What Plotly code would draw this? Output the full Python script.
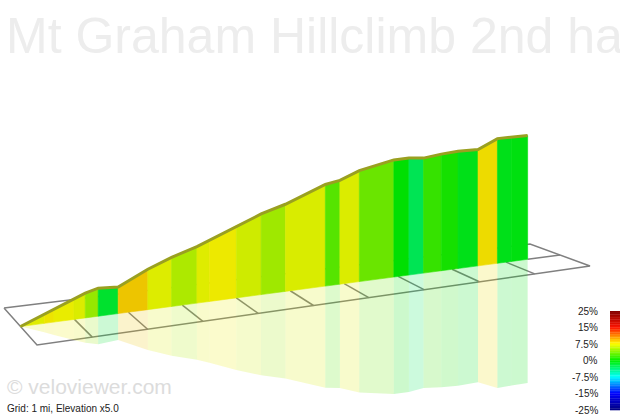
import plotly.graph_objects as go

# ---- data ----
dist_mi = [0.0, 0.44, 0.62, 0.99, 1.20, 1.44, 1.81, 2.36, 2.80, 3.27, 3.50, 4.0, 4.46, 4.91, 5.65, 5.92, 6.28, 6.92, 7.20, 7.47, 7.80, 8.11, 8.48, 8.84, 9.10, 9.40]
elev_ft = [6000, 6164, 6238, 6382, 6459, 6519, 6490, 6747, 6910, 7046, 7132, 7333, 7492, 7612, 7881, 7920, 8052, 8166, 8165, 8127, 8157, 8168, 8153, 8307, 8296, 8288]
scale_vals = [25, 15, 7.5, 0, -7.5, -15, -25]
scale_labels = ["25%", "15%", "7.5%", "0%", "-7.5%", "-15%", "-25%"]
scale_cols = [(128, 0, 0), (255, 20, 0), (255, 255, 0), (0, 240, 0), (0, 255, 255), (0, 0, 255), (0, 0, 128)]
title = "Mt Graham Hillclimb 2nd half"
footer = "Grid: 1 mi, Elevation x5.0"

# ---- projection settings ----
GRID_MI = 10
FL, NL, FR, NR = (4, 308), (37, 345), (530, 244), (590, 266)
PX_PER_FT = 1 / 18.5

def proj(d, v=0.5):
    u = d / GRID_MI
    x = (1-u)*((1-v)*FL[0] + v*NL[0]) + u*((1-v)*FR[0] + v*NR[0])
    y = (1-u)*((1-v)*FL[1] + v*NL[1]) + u*((1-v)*FR[1] + v*NR[1])
    return x, y

def grade_color(g, shade=0.93):
    vals = scale_vals[::-1]; cols = scale_cols[::-1]
    g = max(min(g, vals[-1]), vals[0])
    for i in range(len(vals)-1):
        if vals[i] <= g <= vals[i+1]:
            t = (g - vals[i]) / (vals[i+1] - vals[i])
            c = [cols[i][k] + t*(cols[i+1][k]-cols[i][k]) for k in range(3)]
            break
    return tuple(int(ci*shade) for ci in c)

fig = go.Figure()
emin = elev_ft[0]

def line(xs, ys, color="#808080", w=1.5):
    fig.add_trace(go.Scatter(x=xs, y=ys, mode="lines", line=dict(color=color, width=w),
                             hoverinfo="skip", showlegend=False))

pts = [proj(0, 0), proj(GRID_MI, 0), proj(GRID_MI, 1), proj(0, 1), proj(0, 0)]
line([p[0] for p in pts], [p[1] for p in pts])
for k in range(1, GRID_MI):
    a, b = proj(k, 0.5), proj(k, 1)
    line([a[0], b[0]], [a[1], b[1]])
a, b = proj(dist_mi[-1], 0.5), proj(GRID_MI, 0.5)
line([a[0], b[0]], [a[1], b[1]])

for i in range(len(dist_mi)-1):
    d0, d1 = dist_mi[i], dist_mi[i+1]
    e0, e1 = elev_ft[i], elev_ft[i+1]
    g = (e1 - e0) / ((d1 - d0) * 5280) * 100
    r, gg, b = grade_color(g)
    (x0, y0), (x1, y1) = proj(d0), proj(d1)
    h0, h1 = (e0-emin)*PX_PER_FT, (e1-emin)*PX_PER_FT
    fig.add_trace(go.Scatter(x=[x0, x1, x1, x0, x0], y=[y0, y1, y1+h1, y0+h0, y0], fill="toself",
                             mode="lines", line=dict(width=0), fillcolor=f"rgba({r},{gg},{b},0.2)",
                             hoverinfo="skip", showlegend=False))
    fig.add_trace(go.Scatter(x=[x0, x1, x1, x0, x0], y=[y0, y1, y1-h1, y0-h0, y0], fill="toself",
                             mode="lines", line=dict(width=0.6, color=f"rgba({r},{gg},{b},1)"),
                             fillcolor=f"rgb({r},{gg},{b})", hoverinfo="skip", showlegend=False))

top = [proj(d) for d in dist_mi]
line([p[0] for p in top], [p[1]-(e-emin)*PX_PER_FT for p, e in zip(top, elev_ft)], color="#9aa020", w=3)

shapes = []
N = 60
y_top, y_bot = 311, 410
for j in range(N):
    t = (j + 0.5) / N * (len(scale_vals)-1)
    i = min(int(t), len(scale_vals)-2)
    f = t - i
    c = [int(scale_cols[i][k] + f*(scale_cols[i+1][k]-scale_cols[i][k])) for k in range(3)]
    ya = y_top + j*(y_bot-y_top)/N
    shapes.append(dict(type="rect", xref="x", yref="y", x0=610, x1=620, y0=ya, y1=ya+(y_bot-y_top)/N+0.3,
                       fillcolor=f"rgb({c[0]},{c[1]},{c[2]})", line=dict(width=0), layer="above"))
anns = []
for j, lab in enumerate(scale_labels):
    anns.append(dict(x=600, y=y_top + j*(y_bot-y_top)/(len(scale_labels)-1), xref="x", yref="y",
                     text=lab, showarrow=False, xanchor="right", yanchor="middle",
                     font=dict(family="Arial, Liberation Sans", size=10, color="#222")))
anns.append(dict(x=4, y=36, xref="x", yref="y", text=title, showarrow=False, xanchor="left",
                 yanchor="middle", font=dict(family="Arial, Liberation Sans", size=50, color="#ededed")))
anns.append(dict(x=5, y=386, xref="x", yref="y", text="© veloviewer.com", showarrow=False, xanchor="left",
                 yanchor="middle", font=dict(family="Arial, Liberation Sans", size=21, color="#dcdcdc")))
anns.append(dict(x=5, y=408, xref="x", yref="y", text=footer, showarrow=False, xanchor="left",
                 yanchor="middle", font=dict(family="Arial, Liberation Sans", size=10, color="#222")))

fig.update_layout(width=620, height=415, margin=dict(l=0, r=0, t=0, b=0),
                  plot_bgcolor="white", paper_bgcolor="white", shapes=shapes, annotations=anns,
                  xaxis=dict(range=[0, 620], visible=False, fixedrange=True),
                  yaxis=dict(range=[415, 0], visible=False, fixedrange=True))
fig.write_html("out.html", config={"displayModeBar": False},
               post_script="document.body.style.margin='0';document.body.style.overflow='hidden';")
